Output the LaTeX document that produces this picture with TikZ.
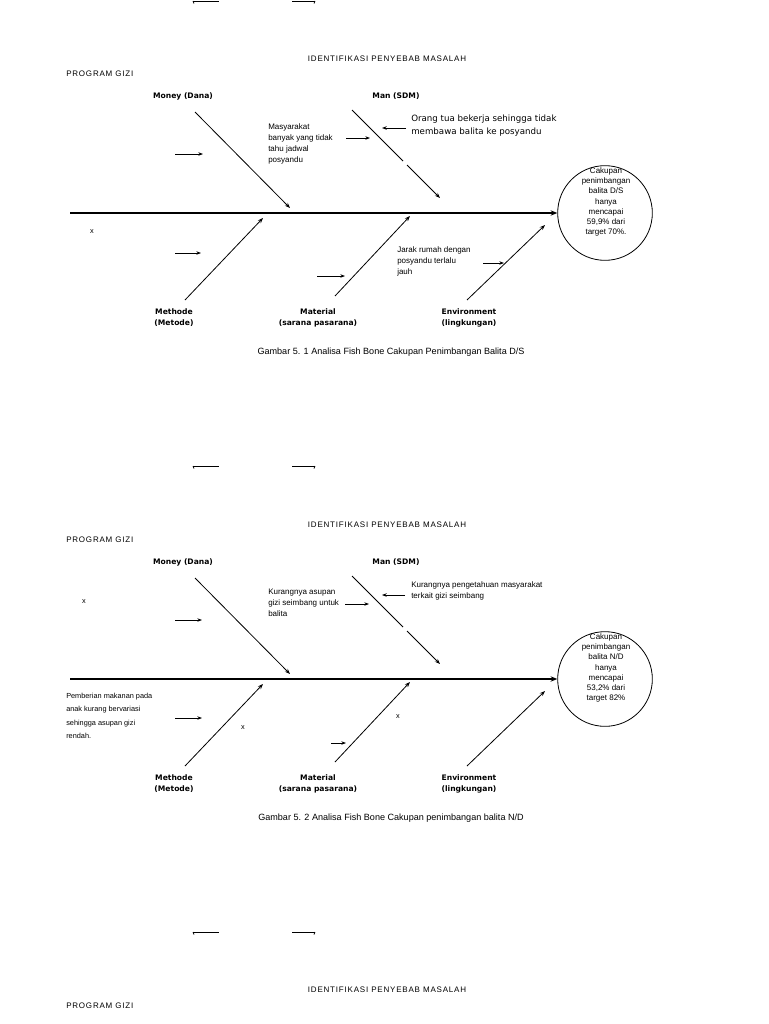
\documentclass[tikz,border=0pt]{standalone}
\usepackage{fontspec}
\setmainfont{Liberation Sans}
\newfontfamily\titlefont[LetterSpace=10]{Liberation Sans}
\newfontfamily\dvs{DejaVu Sans}
\usetikzlibrary{arrows.meta}
\begin{document}
\begin{tikzpicture}[x=0.75pt,y=-0.75pt,
  bone/.style={line width=0.6pt,-{Stealth[length=4pt,width=3pt]}},
  plain/.style={line width=0.6pt},
  sub/.style={line width=0.6pt,-{Stealth[length=3.5pt,width=2.6pt]}},
  spine/.style={line width=1.6pt,-{Stealth[length=5pt,width=4pt]}},
  frag/.style={line width=0.6pt},
  ttl/.style={font=\titlefont\fontsize{6}{7}\selectfont,inner sep=0pt},
  lab/.style={font=\dvs\bfseries\fontsize{5.7}{8.25}\selectfont,align=center,inner sep=0pt},
  cause/.style={font=\fontsize{6}{8.25}\selectfont,align=left,anchor=west,inner sep=0pt},
  causeV/.style={font=\dvs\fontsize{6.5}{9.75}\selectfont,align=left,anchor=west,inner sep=0pt},
  xmark/.style={font=\fontsize{5.5}{6}\selectfont,inner sep=0pt},
  captiontext/.style={font=\fontsize{6.8}{8}\selectfont,inner sep=0pt},
  circ/.style={circle,draw,line width=0.6pt,minimum size=71pt,inner sep=0pt},
  ctext/.style={font=\fontsize{6}{7.6}\selectfont,align=center,inner sep=0pt}]
\useasboundingbox (0,0) rectangle (768,1024);
\fill[white] (0,0) rectangle (768,1024);

% ================= page fragment 1 =================
\begin{scope}
\coordinate (a-f1) at (193,1); \coordinate (a-f2) at (219,1);
\coordinate (a-f3) at (292,1); \coordinate (a-f4) at (315,1);
\draw[frag] (a-f1) -- (a-f2); \draw[frag] (a-f1) -- ++(1,2.5);
\draw[frag] (a-f3) -- (a-f4); \draw[frag] (a-f4) -- ++(-1,2.5);
\end{scope}

% ================= diagram 1 =================
\begin{scope}
\node[ttl] (a-title) at (387,59) {IDENTIFIKASI PENYEBAB MASALAH};
\node[ttl,anchor=west] (a-prog) at (66,74) {PROGRAM GIZI};
\node[lab] (a-money) at (183,96) {Money (Dana)};
\node[lab] (a-man) at (396,96) {Man (SDM)};
\node[circ] (a-eff) at (605,213) {};
\node[ctext] (a-efftext) at (606,202) {Cakupan\\penimbangan\\balita D/S\\hanya\\mencapai\\59,9\% dari\\target 70\%.};
\coordinate (a-tail) at (70,213);
\draw[spine] (a-tail) -- (a-eff.west);
% bones
\coordinate (a-mo1) at (195,112); \coordinate (a-mo2) at (290,208);
\draw[bone] (a-mo1) -- (a-mo2);
\coordinate (a-ma1) at (352,110); \coordinate (a-ma2) at (403,161);
\coordinate (a-ma3) at (407,165); \coordinate (a-ma4) at (440,198);
\draw[plain] (a-ma1) -- (a-ma2); \draw[bone] (a-ma3) -- (a-ma4);
\coordinate (a-me1) at (185,300); \coordinate (a-me2) at (263,218);
\draw[bone] (a-me1) -- (a-me2);
\coordinate (a-mt1) at (335,296); \coordinate (a-mt2) at (410,216);
\draw[bone] (a-mt1) -- (a-mt2);
\coordinate (a-en1) at (467,300); \coordinate (a-en2) at (545,225);
\draw[bone] (a-en1) -- (a-en2);
% causes
\node[cause] (a-c1) at (268,143.5) {Masyarakat\\banyak yang tidak\\tahu jadwal\\posyandu};
\coordinate (a-c1s) at (346,138); \coordinate (a-c1e) at (370,138);
\draw[sub] (a-c1s) -- (a-c1e);
\node[causeV] (a-c2) at (411,125.5) {Orang tua bekerja sehingga tidak\\membawa balita ke posyandu};
\coordinate (a-c2s) at (406,128); \coordinate (a-c2e) at (382,128);
\draw[sub] (a-c2s) -- (a-c2e);
\coordinate (a-s1s) at (175,154); \coordinate (a-s1e) at (203,154);
\draw[sub] (a-s1s) -- (a-s1e);
\node[xmark] (a-x1) at (92,232) {x};
\coordinate (a-s2s) at (175,253); \coordinate (a-s2e) at (201,253);
\draw[sub] (a-s2s) -- (a-s2e);
\coordinate (a-s3s) at (317,276); \coordinate (a-s3e) at (345,276);
\draw[sub] (a-s3s) -- (a-s3e);
\node[cause] (a-c3) at (397,261.5) {Jarak rumah dengan\\posyandu terlalu\\jauh};
\coordinate (a-s4s) at (483,263); \coordinate (a-s4e) at (504,263);
\draw[sub] (a-s4s) -- (a-s4e);
% labels
\node[lab] (a-meth) at (174,317.5) {Methode\\(Metode)};
\node[lab] (a-mat) at (318,317.5) {Material\\(sarana pasarana)};
\node[lab] (a-env) at (469,317.5) {Environment\\(lingkungan)};
\node[captiontext] (a-cap) at (391,352) {Gambar 5. 1 Analisa Fish Bone Cakupan Penimbangan Balita D/S};
\end{scope}

% ================= diagram 2 =================
\begin{scope}[yshift=-349.5pt]
\coordinate (b-f1) at (193,0); \coordinate (b-f2) at (219,0);
\coordinate (b-f3) at (292,0); \coordinate (b-f4) at (315,0);
\draw[frag] (b-f1) -- (b-f2); \draw[frag] (b-f1) -- ++(1,2.5);
\draw[frag] (b-f3) -- (b-f4); \draw[frag] (b-f4) -- ++(-1,2.5);
\node[ttl] (b-title) at (387,59) {IDENTIFIKASI PENYEBAB MASALAH};
\node[ttl,anchor=west] (b-prog) at (66,74) {PROGRAM GIZI};
\node[lab] (b-money) at (183,96) {Money (Dana)};
\node[lab] (b-man) at (396,96) {Man (SDM)};
\node[circ] (b-eff) at (605,213) {};
\node[ctext] (b-efftext) at (606,202) {Cakupan\\penimbangan\\balita N/D\\hanya\\mencapai\\53,2\% dari\\target 82\%};
\coordinate (b-tail) at (70,213);
\draw[spine] (b-tail) -- (b-eff.west);
\coordinate (b-mo1) at (195,112); \coordinate (b-mo2) at (290,208);
\draw[bone] (b-mo1) -- (b-mo2);
\coordinate (b-ma1) at (352,110); \coordinate (b-ma2) at (403,161);
\coordinate (b-ma3) at (407,165); \coordinate (b-ma4) at (440,198);
\draw[plain] (b-ma1) -- (b-ma2); \draw[bone] (b-ma3) -- (b-ma4);
\coordinate (b-me1) at (185,300); \coordinate (b-me2) at (263,218);
\draw[bone] (b-me1) -- (b-me2);
\coordinate (b-mt1) at (335,296); \coordinate (b-mt2) at (410,216);
\draw[bone] (b-mt1) -- (b-mt2);
\coordinate (b-en1) at (467,300); \coordinate (b-en2) at (545,225);
\draw[bone] (b-en1) -- (b-en2);
\node[cause] (b-c1) at (268,137) {Kurangnya asupan\\gizi seimbang untuk\\balita};
\coordinate (b-c1s) at (345,138); \coordinate (b-c1e) at (369,138);
\draw[sub] (b-c1s) -- (b-c1e);
\node[cause] (b-c2) at (411,124.5) {Kurangnya pengetahuan masyarakat\\terkait gizi seimbang};
\coordinate (b-c2s) at (405,129); \coordinate (b-c2e) at (382,129);
\draw[sub] (b-c2s) -- (b-c2e);
\node[xmark] (b-x1) at (84,136) {x};
\coordinate (b-s1s) at (175,154); \coordinate (b-s1e) at (202,154);
\draw[sub] (b-s1s) -- (b-s1e);
\node[cause,font=\fontsize{5.5}{10}\selectfont] (b-c3) at (66,250) {Pemberian makanan pada\\anak kurang bervariasi\\sehingga asupan gizi\\rendah.};
\coordinate (b-s2s) at (175,252); \coordinate (b-s2e) at (202,252);
\draw[sub] (b-s2s) -- (b-s2e);
\node[xmark] (b-x2) at (243,262) {x};
\node[xmark] (b-x3) at (398,251) {x};
\coordinate (b-s3s) at (331,277); \coordinate (b-s3e) at (346,277);
\draw[sub] (b-s3s) -- (b-s3e);
\node[lab] (b-meth) at (174,317.5) {Methode\\(Metode)};
\node[lab] (b-mat) at (318,317.5) {Material\\(sarana pasarana)};
\node[lab] (b-env) at (469,317.5) {Environment\\(lingkungan)};
\node[captiontext] (b-cap) at (391,352) {Gambar 5. 2 Analisa Fish Bone Cakupan penimbangan balita N/D};
\end{scope}

% ================= diagram 3 (cut off) =================
\begin{scope}[yshift=-699pt]
\coordinate (c-f1) at (193,0); \coordinate (c-f2) at (219,0);
\coordinate (c-f3) at (292,0); \coordinate (c-f4) at (315,0);
\draw[frag] (c-f1) -- (c-f2); \draw[frag] (c-f1) -- ++(1,2.5);
\draw[frag] (c-f3) -- (c-f4); \draw[frag] (c-f4) -- ++(-1,2.5);
\node[ttl] (c-title) at (387,58) {IDENTIFIKASI PENYEBAB MASALAH};
\node[ttl,anchor=west] (c-prog) at (66,74) {PROGRAM GIZI};
\end{scope}
\end{tikzpicture}
\end{document}
